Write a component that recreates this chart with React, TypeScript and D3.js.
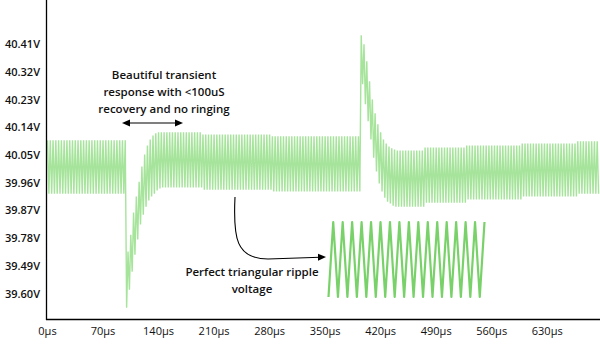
import React, { useEffect, useRef } from 'react';
import * as d3 from 'd3';

// axis ticks (the original chart prints 39.49V where 39.69V belongs)
const voltTicks = [40.41, 40.32, 40.23, 40.14, 40.05, 39.96, 39.87, 39.78, 39.69, 39.6];
const voltLabels = ['40.41V', '40.32V', '40.23V', '40.14V', '40.05V', '39.96V', '39.87V', '39.78V', '39.49V', '39.60V'];
const timeTicks = [0, 70, 140, 210, 280, 350, 420, 490, 560, 630];
const timeLabels = ['0µs', '70µs', '140µs', '210µs', '280µs', '350µs', '420µs', '490µs', '560µs', '630µs'];

// ripple period in µs; every cycle has a peak and a trough (volts)
const RIPPLE_PERIOD = 3.5;
// runs of identical cycles: [count, peak, trough]
const steadyRuns: [number, number, number][] = [[28, 40.098, 39.925]];
// load step-up at ~98µs
const stepDownHi = [40.098, 39.737, 39.792, 39.864, 39.916, 39.964, 40.013, 40.052, 40.081, 40.101, 40.114, 40.121, 40.124];
const stepDownLo = [39.555, 39.613, 39.672, 39.727, 39.776, 39.825, 39.857, 39.883, 39.903, 39.916, 39.925, 39.935, 39.942];
const settleRuns: [number, number, number][] = [[15, 40.124, 39.945], [25, 40.117, 39.938], [32, 40.111, 39.932]];
// load release at ~395µs
const stepUpHi = [40.439, 40.41, 40.355, 40.29, 40.231, 40.186, 40.15, 40.124, 40.101, 40.088, 40.078, 40.072, 40.068];
const stepUpLo = [40.28, 40.215, 40.16, 40.101, 40.042, 39.997, 39.958, 39.932, 39.912, 39.899, 39.893, 39.886, 39.883];
const tailRuns: [number, number, number][] = [[10, 40.065, 39.883], [15, 40.075, 39.896], [20, 40.081, 39.906], [20, 40.088, 39.916], [8, 40.095, 39.925]];

// zoomed ripple inset
const insetValues = [
  39.93, 40.1, 39.93, 40.1, 39.93, 40.1, 39.93, 40.1, 39.93, 40.1, 39.93, 40.1,
  39.93, 40.1, 39.93, 40.1, 39.93, 40.1, 39.93, 40.1, 39.93, 40.1, 39.93, 40.1,
  39.93, 40.1, 39.93, 40.1, 39.93, 40.1, 39.93, 40.1, 39.93, 40.1,
];

const width = 600;
const height = 352;

const App: React.FC = () => {
  const svgRef = useRef<SVGSVGElement>(null);

  useEffect(() => {
    if (!svgRef.current) return;
    const svg = d3.select(svgRef.current);
    svg.selectAll('*').remove();

    const x = d3.scaleLinear().domain([0, 694]).range([47.5, 598]);
    const y = d3.scaleLinear().domain([39.515, 40.44]).range([320, 35]);

    // expand runs + explicit cycles into one list of [peak, trough]
    const cycles: [number, number][] = [];
    const addRuns = (runs: [number, number, number][]) =>
      runs.forEach(([n, hi, lo]) => { for (let i = 0; i < n; i++) cycles.push([hi, lo]); });
    const addList = (his: number[], los: number[]) => his.forEach((h, i) => cycles.push([h, los[i]]));
    addRuns(steadyRuns);
    addList(stepDownHi, stepDownLo);
    addRuns(settleRuns);
    addList(stepUpHi, stepUpLo);
    addRuns(tailRuns);

    const pts: [number, number][] = [];
    cycles.forEach(([hi, lo], i) => {
      pts.push([i * RIPPLE_PERIOD, hi]);
      pts.push([i * RIPPLE_PERIOD + RIPPLE_PERIOD / 2, lo]);
    });

    const line = d3.line<[number, number]>().x(d => x(d[0])).y(d => y(d[1]));

    svg.append('path')
      .attr('d', line(pts))
      .attr('fill', 'none')
      .attr('stroke', '#84d874')
      .attr('stroke-width', 1.4)
      .attr('opacity', 0.72);

    // axes lines
    svg.append('line').attr('x1', 46.5).attr('x2', 46.5).attr('y1', 0).attr('y2', 320)
      .attr('stroke', '#000').attr('stroke-width', 1.3);
    svg.append('line').attr('x1', 46).attr('x2', 600).attr('y1', 319.5).attr('y2', 319.5)
      .attr('stroke', '#000').attr('stroke-width', 1.3);

    svg.selectAll('.ylab').data(voltTicks).enter().append('text')
      .attr('class', 'ylab')
      .attr('x', 40)
      .attr('y', d => y(d))
      .attr('dy', '0.35em')
      .attr('text-anchor', 'end')
      .style('font-family', '"Open Sans", sans-serif')
      .style('font-size', '11px')
      .style('font-weight', 600)
      .style('fill', '#111')
      .text((_, i) => voltLabels[i]);

    svg.selectAll('.xlab').data(timeTicks).enter().append('text')
      .attr('class', 'xlab')
      .attr('x', d => x(d))
      .attr('y', 331)
      .attr('dy', '0.35em')
      .attr('text-anchor', 'middle')
      .style('font-family', '"Open Sans", sans-serif')
      .style('font-size', '11px')
      .style('fill', '#111')
      .text((_, i) => timeLabels[i]);

    // inset
    const xi = d3.scaleLinear().domain([0, insetValues.length - 1]).range([328.5, 484.5]);
    const yi = d3.scaleLinear().domain([39.93, 40.1]).range([297, 222]);
    svg.append('path')
      .attr('d', d3.line<number>().x((_, i) => xi(i)).y(d => yi(d))(insetValues))
      .attr('fill', 'none')
      .attr('stroke', '#62c94f')
      .attr('stroke-width', 2.2)
      .attr('stroke-linejoin', 'round')
      .attr('opacity', 0.85);

    const note = (lines: string[], cx: number, y0: number) => {
      const t = svg.append('text')
        .attr('x', cx)
        .attr('y', y0)
        .attr('text-anchor', 'middle')
        .style('font-family', '"Open Sans", sans-serif')
        .style('font-size', '11.5px')
        .style('font-weight', 600)
        .style('fill', '#111');
      lines.forEach((s, i) => t.append('tspan').attr('x', cx).attr('dy', i === 0 ? 0 : 17).text(s));
    };
    note(['Beautiful transient', 'response with <100uS', 'recovery and no ringing'], 164, 79);
    note(['Perfect triangular ripple', 'voltage'], 252, 276);

    // double arrow
    svg.append('line').attr('x1', 128).attr('x2', 177).attr('y1', 123).attr('y2', 123)
      .attr('stroke', '#000').attr('stroke-width', 1.2);
    svg.append('path').attr('d', 'M122,123 L130,119.5 L130,126.5 Z').attr('fill', '#000');
    svg.append('path').attr('d', 'M183,123 L175,119.5 L175,126.5 Z').attr('fill', '#000');

    // curved arrow
    svg.append('path')
      .attr('d', 'M235,197 C233,238 236,259 268,259 L320,257.3')
      .attr('fill', 'none')
      .attr('stroke', '#000')
      .attr('stroke-width', 1.1);
    svg.append('path').attr('d', 'M326,257 L318,253.7 L318,260.7 Z').attr('fill', '#000');
  }, []);

  return (
    <svg
      ref={svgRef}
      width={width}
      height={height}
      style={{ position: 'absolute', left: 0, top: 0, background: '#fff' }}
    />
  );
};

export default App;
